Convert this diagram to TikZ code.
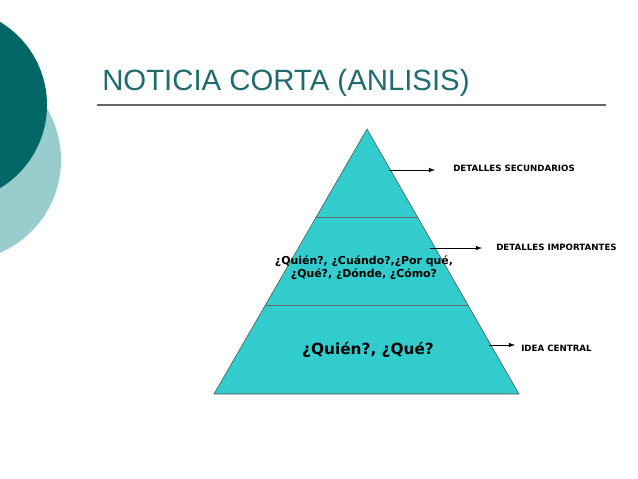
\documentclass[tikz,border=0pt]{standalone}
\usepackage{fontspec}
\setmainfont{Liberation Sans}
\newfontfamily\verd{DejaVu Sans}
\definecolor{pyr}{HTML}{33CCCC}
\definecolor{dteal}{HTML}{006666}
\definecolor{lteal}{HTML}{99CCCC}
\definecolor{ttl}{HTML}{1F6B6E}
\begin{document}
\begin{tikzpicture}[x=0.75pt,y=-0.75pt,
  lbl/.style={anchor=west,font=\verd\bfseries\fontsize{6.5}{8}\selectfont,inner sep=0},
  arr/.style={-latex,line width=0.6pt}]
\useasboundingbox (0,0) rectangle (638,478);
\fill[white] (0,0) rectangle (638,478);
\begin{scope}
\clip (0,0) rectangle (638,478);
\fill[lteal] (-40,160) circle[radius=101];
\fill[dteal] (-50,105) circle[radius=97];
\end{scope}
\node[anchor=base west,inner sep=0,text=ttl,font=\fontsize{22}{26}\selectfont] (title) at (102,90) {NOTICIA CORTA (ANLISIS)};
\draw[gray!80!black,line width=0.8pt] (97,105) -- (606,105);
\fill[pyr,draw=black!70,line width=0.4pt] (367,129) -- (519,394) -- (214,394) -- cycle;
\draw[black!60,line width=0.5pt] (316,217) -- (418,217);
\draw[black!60,line width=0.5pt] (265,305) -- (469,305);
\node[align=center,font=\verd\bfseries\fontsize{8.2}{9.5}\selectfont,inner sep=0] (t1) at (364,268) {¿Quién?, ¿Cuándo?,¿Por qué,\\¿Qué?, ¿Dónde, ¿Cómo?};
\node[font=\verd\bfseries\fontsize{11.5}{13}\selectfont,inner sep=0] (t2) at (368,350) {¿Quién?, ¿Qué?};
\node[lbl] (l1) at (453,168) {DETALLES SECUNDARIOS};
\node[lbl] (l2) at (496,247) {DETALLES IMPORTANTES};
\node[lbl] (l3) at (521,348) {IDEA CENTRAL};
\coordinate (a1) at (389,170); \coordinate (b1) at (435,170);
\coordinate (a2) at (430,248); \coordinate (b2) at (482,248);
\coordinate (a3) at (489,345); \coordinate (b3) at (515,345);
\draw[arr] (a1) -- (b1);
\draw[arr] (a2) -- (b2);
\draw[arr] (a3) -- (b3);
\end{tikzpicture}
\end{document}
